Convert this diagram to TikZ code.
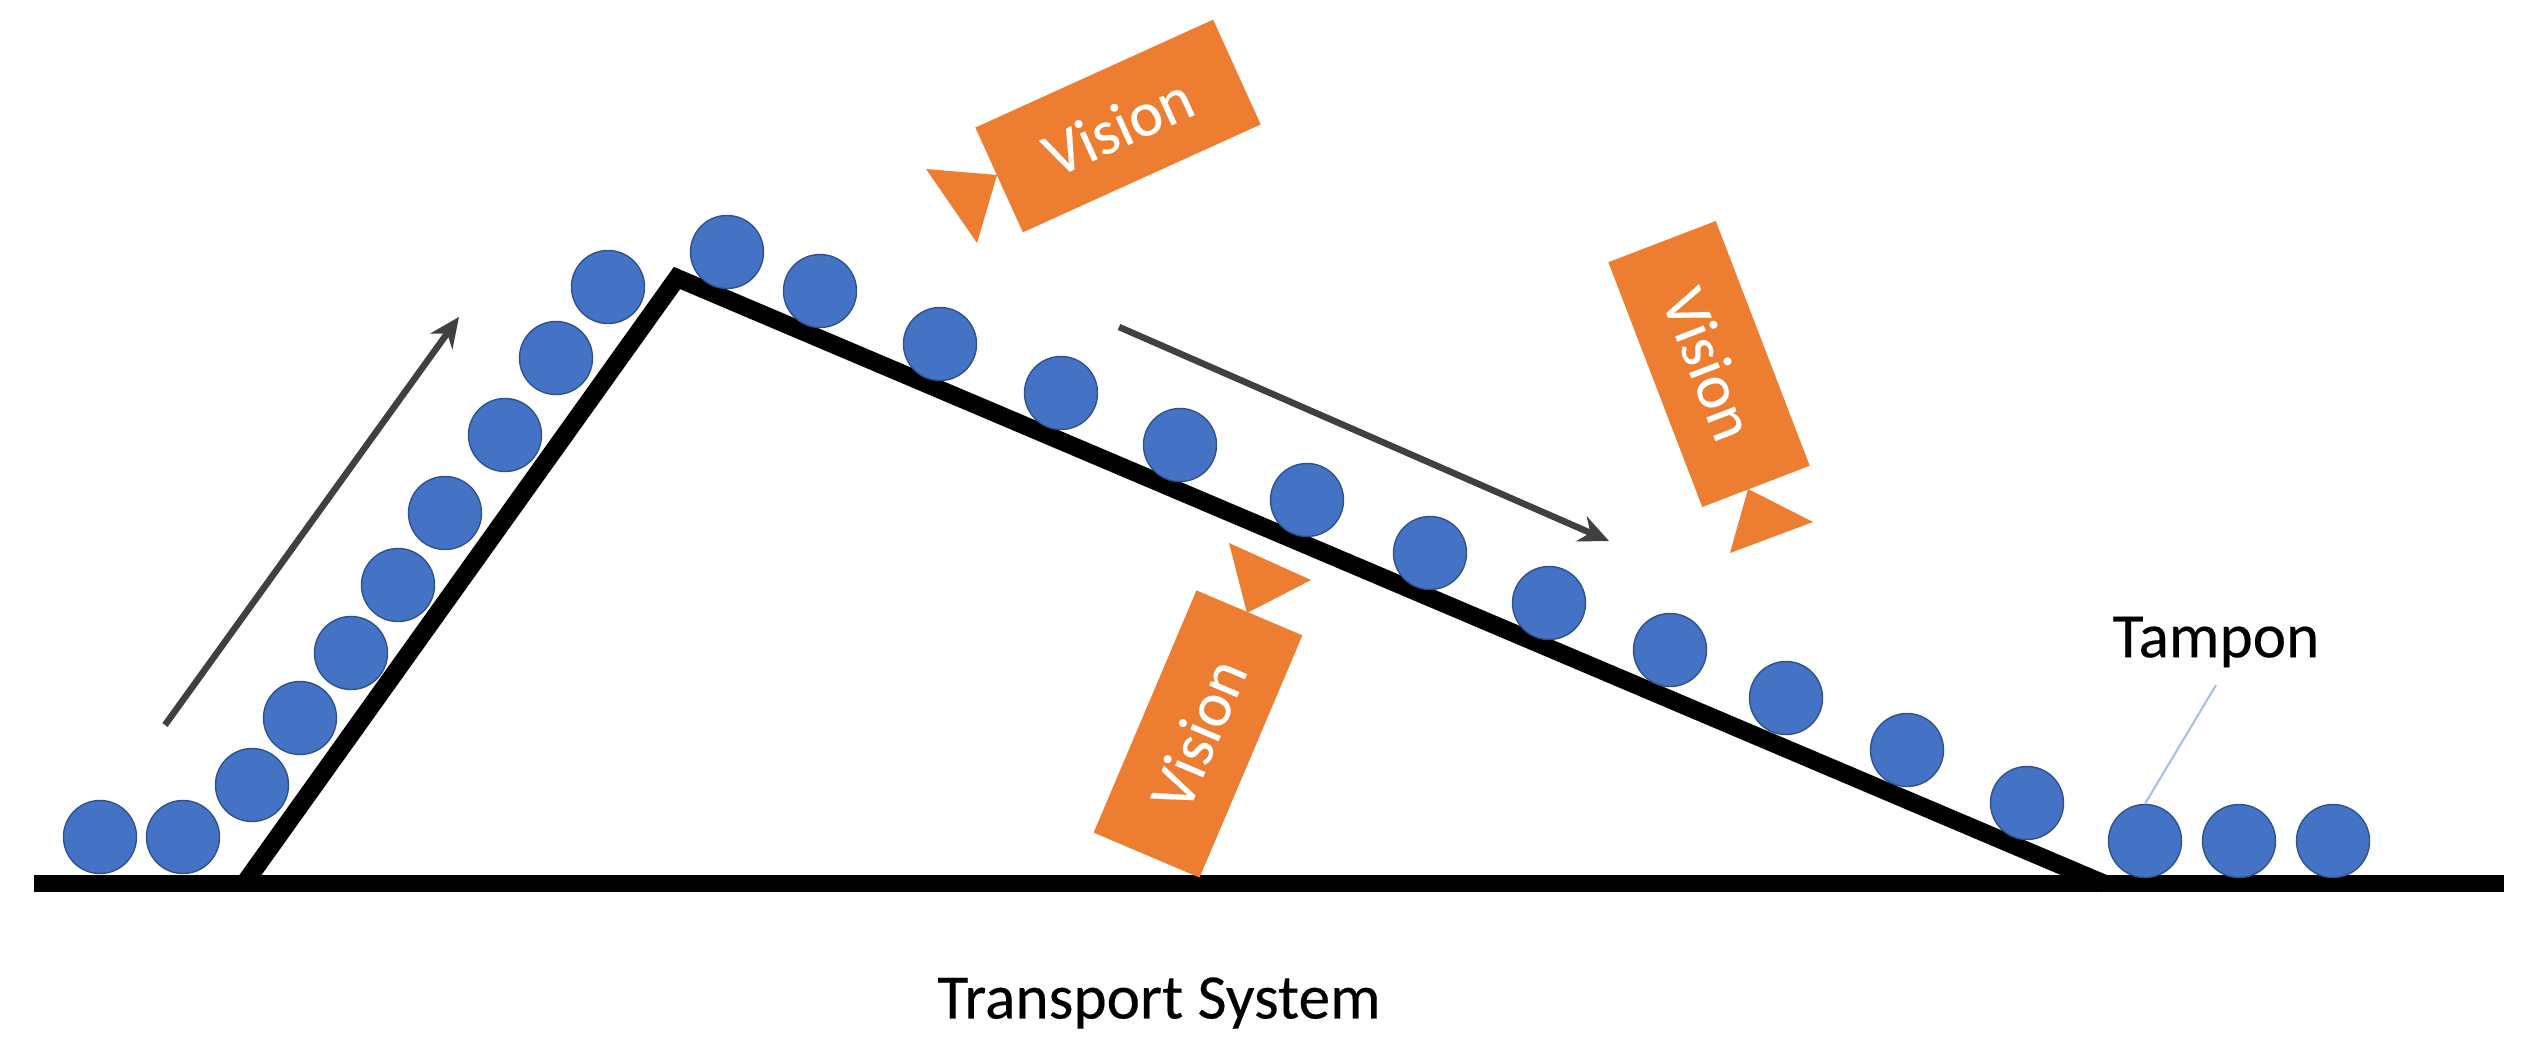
\documentclass[tikz,border=0pt]{standalone}
\usepackage{fontspec}
\setmainfont{Carlito}
\newfontfamily\heavyfont[FakeBold=0.25]{Carlito}
\usetikzlibrary{calc,arrows.meta}
\definecolor{ballblue}{HTML}{4472C4}
\definecolor{ballrim}{HTML}{2F528F}
\definecolor{camorange}{HTML}{ED7D31}
\definecolor{leadblue}{HTML}{A9BFE6}
\definecolor{arrowgray}{HTML}{404040}
\tikzset{
  ball/.style={circle,fill=ballblue,draw=ballrim,line width=0.4pt,inner sep=0pt,minimum size=0.73cm},
  ramp/.style={line width=0.18cm,black,line join=miter},
  ground/.style={line width=0.17cm,black},
  flowarrow/.style={-{Stealth[length=0.3cm,width=0.27cm]},line width=0.065cm,arrowgray},
  camfill/.style={fill=camorange,draw=none},
  camera/.style={camfill,text=white,inner sep=0pt,font=\heavyfont\fontsize{18}{20}\selectfont},
  label/.style={inner sep=0pt,font=\heavyfont\fontsize{18}{20}\selectfont}
}
\begin{document}
\begin{tikzpicture}[x=0.01cm,y=-0.01cm]
              \useasboundingbox (0,0) rectangle (2528,1055);
              % ground and ramp
              \coordinate (gl) at (34,883);
              \coordinate (gr) at (2504,883);
              \coordinate (rl) at (244,884);
              \coordinate (rt) at (677,278);
              \coordinate (rr) at (2105,884);
              \draw[ramp] (rl) -- (rt) -- (rr);
              \draw[ground] (gl) -- (gr);
              % balls
              \node[ball](b1)at(100,837){};
              \node[ball](b2)at(183,837){};
              \node[ball](b3)at(252,785){};
              \node[ball](b4)at(300,718){};
              \node[ball](b5)at(351,653){};
              \node[ball](b6)at(398,585){};
              \node[ball](b7)at(445,513){};
              \node[ball](b8)at(505,435){};
              \node[ball](b9)at(556,358){};
              \node[ball](b10)at(608,287){};
              \node[ball](b11)at(727,252){};
              \node[ball](b12)at(820,291){};
              \node[ball](b13)at(940,344){};
              \node[ball](b14)at(1061,393){};
              \node[ball](b15)at(1180,445){};
              \node[ball](b16)at(1307,500){};
              \node[ball](b17)at(1430,553){};
              \node[ball](b18)at(1549,603){};
              \node[ball](b19)at(1670,650){};
              \node[ball](b20)at(1786,698){};
              \node[ball](b21)at(1907,750){};
              \node[ball](b22)at(2027,803){};
              \node[ball](b23)at(2145,841){};
              \node[ball](b24)at(2239,841){};
              \node[ball](b25)at(2333,841){};
              % arrows
              \coordinate (ua) at (165,725);
              \coordinate (ub) at (459,317);
              \coordinate (da) at (1119,327);
              \coordinate (db) at (1609,541);
              \draw[flowarrow](ua)--(ub);
              \draw[flowarrow](da)--(db);
              % cameras
              \node[camera,rotate=24.4,minimum width=2.61cm,minimum height=1.15cm](cam1)at(1118,126){Vision};
              \fill[camfill] (926,169) -- (997,175) -- (977,243) -- cycle;
              \node[camera,rotate=67,minimum width=2.63cm,minimum height=1.15cm](cam2)at(1198,734){Vision};
              \fill[camfill] (1229,543) -- (1311,580) -- (1247,613) -- cycle;
              \node[camera,rotate=-69,minimum width=2.62cm,minimum height=1.15cm](cam3)at(1709,364){Vision};
              \fill[camfill] (1748,489) -- (1813,522) -- (1730,553) -- cycle;
              % labels
              \node[label,inner sep=4.8pt](tampon)at(2216,642){Tampon};
              \draw[leadblue,line width=0.6pt](tampon.south)--(b23.north);
              \node[label](transport)at(1159,1003){Transport System};
\end{tikzpicture}
\end{document}
